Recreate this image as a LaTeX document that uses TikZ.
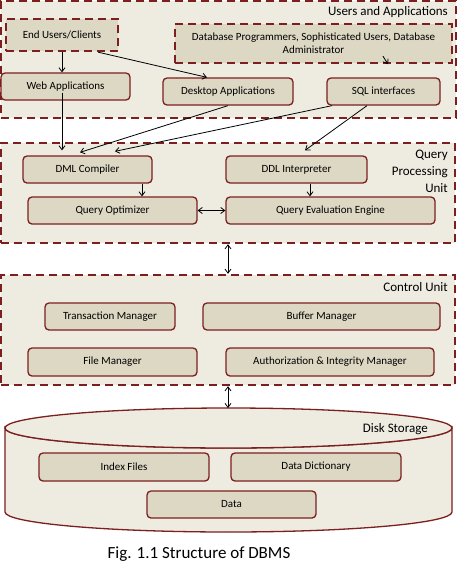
\documentclass[tikz,border=0pt]{standalone}
\usepackage{fontspec}
\setmainfont{Carlito}
\usetikzlibrary{arrows.meta}
\definecolor{maroon}{HTML}{7B1F1F}
\definecolor{outerfill}{HTML}{EEEBE1}
\definecolor{innerfill}{HTML}{DDD8C3}
\tikzset{
  group/.style={draw=maroon, fill=outerfill, line width=2.4pt, dash pattern=on 8pt off 5pt},
  dgroup/.style={draw=maroon, fill=innerfill, line width=2.4pt, dash pattern=on 8pt off 5pt, font=\fontsize{11}{13}\selectfont, align=center, inner sep=0pt},
  comp/.style={draw=maroon, fill=innerfill, line width=1.3pt, rounded corners=4pt, font=\fontsize{11}{13}\selectfont, inner sep=0pt},
  lbl/.style={font=\fontsize{13}{17}\selectfont, inner sep=0pt, align=right},
  arr/.style={-{Straight Barb[length=4pt,width=6pt]}, line width=0.8pt, black},
  darr/.style={{Straight Barb[length=4pt,width=6pt]}-{Straight Barb[length=4pt,width=6pt]}, line width=0.8pt, black}
}
\begin{document}
\begin{tikzpicture}[x=1pt,y=-1pt]
\useasboundingbox (0,0) rectangle (459,568);
\fill[white] (0,0) rectangle (459,568);

% Users and Applications
\node[group, minimum width=455pt, minimum height=117pt] (ua) at (228.5,59.5) {};
\node[lbl, anchor=north east] (ualbl) at (448,6) {Users and Applications};
\node[dgroup, minimum width=112pt, minimum height=32pt] (eu) at (62,35) {End Users/Clients};
\node[dgroup, minimum width=277pt, minimum height=39pt] (db) at (313.5,43.5) {Database Programmers, Sophisticated Users, Database\\Administrator};
\node[comp, minimum width=129pt, minimum height=27pt] (wa) at (65.5,86.5) {Web Applications};
\node[comp, minimum width=130pt, minimum height=27pt] (dt) at (228,91.5) {Desktop Applications};
\node[comp, minimum width=113pt, minimum height=27pt] (sql) at (383.5,91.5) {SQL interfaces};

% Query Processing Unit
\node[group, minimum width=454pt, minimum height=100pt] (qpu) at (228,193) {};
\node[lbl, anchor=north east] (qpulbl) at (448,150) {Query\\Processing\\Unit};
\node[comp, minimum width=129pt, minimum height=27pt] (dml) at (87.5,169.5) {DML Compiler};
\node[comp, minimum width=141pt, minimum height=27pt] (ddl) at (296.5,169.5) {DDL Interpreter};
\node[comp, minimum width=169pt, minimum height=27pt] (qo) at (112.5,210.5) {Query Optimizer};
\node[comp, minimum width=209pt, minimum height=27pt] (qee) at (330.5,210.5) {Query Evaluation Engine};

% Control Unit
\node[group, minimum width=454pt, minimum height=110pt] (cu) at (228,330) {};
\node[lbl, anchor=north east] (culbl) at (448,282) {Control Unit};
\node[comp, minimum width=130pt, minimum height=27pt] (tm) at (110,316.5) {Transaction Manager};
\node[comp, minimum width=237pt, minimum height=27pt] (bm) at (321.5,316.5) {Buffer Manager};
\node[comp, minimum width=169pt, minimum height=28pt] (fm) at (112.5,362) {File Manager};
\node[comp, minimum width=208pt, minimum height=28pt] (aim) at (330,362) {Authorization \& Integrity Manager};

% Disk storage cylinder
\draw[maroon, fill=outerfill, line width=1.3pt]
  (5,428) arc[start angle=180, end angle=360, x radius=223.5pt, y radius=20pt]
  -- (452,512) arc[start angle=0, end angle=-180, x radius=223.5pt, y radius=20pt] -- cycle;
\draw[maroon, fill=outerfill, line width=1.3pt] (228.5,428) ellipse[x radius=223.5pt, y radius=20pt];
\coordinate (disktop) at (228,408);
\node[lbl, anchor=east] (dslbl) at (428,429) {Disk Storage};
\node[comp, minimum width=170pt, minimum height=28pt] (ifl) at (124,467) {Index Files};
\node[comp, minimum width=170pt, minimum height=28pt] (dd) at (316,467) {Data Dictionary};
\node[comp, minimum width=169pt, minimum height=27pt] (data) at (231.5,504.5) {Data};

% Caption
\node[font=\fontsize{17}{20}\selectfont, inner sep=0pt] (cap) at (199,554) {Fig. 1.1 Structure of DBMS};

% Arrows
\draw[arr] (eu.south) -- (eu.south |- wa.north);
\draw[arr] ([xshift=-21pt]eu.south east) -- ([xshift=-21pt]dt.north);
\draw[arr] ([xshift=69.5pt,yshift=8pt]db.south) -- ([xshift=74.5pt]db.south);
\draw[arr] ([xshift=-3.5pt,yshift=-6pt]wa.center) -- ([xshift=-25.5pt,yshift=5pt]dml.north);
\draw[arr] (dt.south) -- ([xshift=-7.5pt,yshift=3pt]dml.north);
\draw[arr] ([xshift=-51.5pt]sql.south) -- ([xshift=27.5pt,yshift=4pt]dml.north);
\draw[arr] ([xshift=-16.5pt]sql.south) -- ([xshift=8.5pt,yshift=5pt]ddl.north);
\draw[arr] ([xshift=54.5pt]dml.south) -- ([xshift=54.5pt]dml.south |- qo.north);
\draw[arr] ([xshift=13.5pt]ddl.south) -- ([xshift=13.5pt]ddl.south |- qee.north);
\draw[darr] (qo.east) -- (qee.west);
\draw[darr] (qpu.south) -- (cu.north);
\draw[darr] (cu.south) -- (disktop);
\end{tikzpicture}
\end{document}
